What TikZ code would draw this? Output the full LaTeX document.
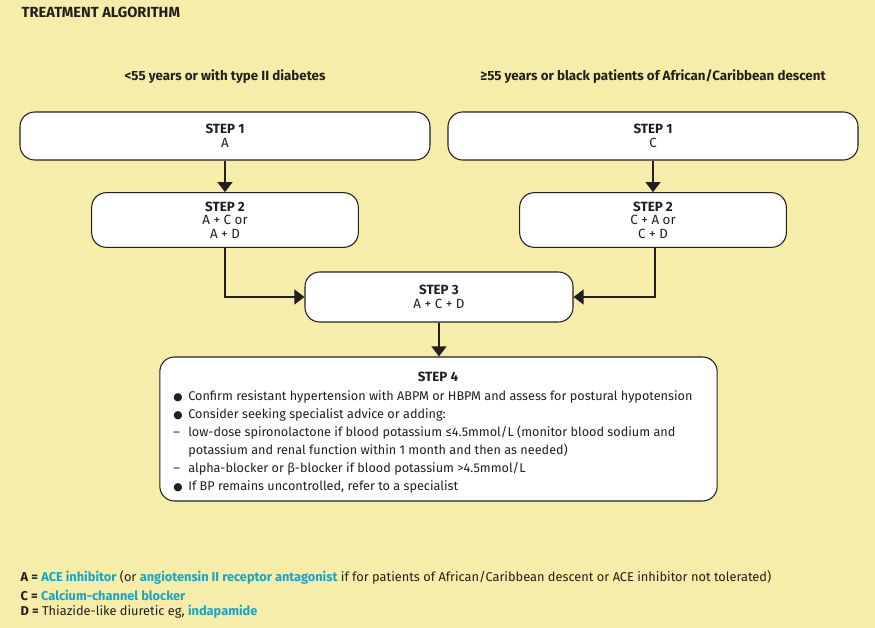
\documentclass[tikz,border=0pt]{standalone}
\usepackage{fontspec}
\setmainfont{Fira Sans}
\newfontfamily\symfont{DejaVu Sans}
\usetikzlibrary{arrows.meta}
\definecolor{bgyellow}{HTML}{F5EDA9}
\definecolor{keyblue}{HTML}{1BA3C6}
\definecolor{inkgrey}{HTML}{231F20}
\newcommand{\mk}[1]{\makebox[11.25pt][l]{#1}}
\newcommand{\bul}{\mk{\symfont\footnotesize ●}}
\newcommand{\drug}[1]{\textcolor{keyblue}{\textbf{#1}}}
\begin{document}
\begin{tikzpicture}[x=0.75pt,y=-0.75pt,
  every node/.style={text=inkgrey},
  stepbox/.style={draw=inkgrey,line width=0.8pt,fill=white,rounded corners=11pt,
    align=center,font=\fontsize{10}{10.2}\selectfont},
  flow/.style={draw=inkgrey,line width=1.5pt,-{Triangle[width=11pt,length=7.5pt]}},
  head/.style={font=\bfseries\fontsize{10}{12}\selectfont},
  keyline/.style={anchor=west,font=\fontsize{9.6}{11}\selectfont}]
      \fill[bgyellow] (0,0) rectangle (875,628);
      \useasboundingbox (0,0) rectangle (875,628);
      
      \node[head,anchor=west,font=\bfseries\fontsize{11}{12}\selectfont] (title) at (17,12) {TREATMENT ALGORITHM};
      \node[head] (younger) at (225,77) {<55 years or with type II diabetes};
      \node[head] (older) at (653,77) {≥55 years or black patients of African/Caribbean descent};
      
      \node[stepbox,minimum width=307.5pt,minimum height=36pt] (s1a) at (225,136) {\textbf{STEP 1}\\A};
      \node[stepbox,minimum width=307.5pt,minimum height=36pt] (s1c) at (653,136) {\textbf{STEP 1}\\C};
      \node[stepbox,minimum width=200pt,minimum height=41pt] (s2a) at (225,220) {\textbf{STEP 2}\\A + C or\\A + D};
      \node[stepbox,minimum width=200pt,minimum height=41pt] (s2c) at (653,220) {\textbf{STEP 2}\\C + A or\\C + D};
      \node[stepbox,minimum width=201pt,minimum height=37.5pt] (s3) at (439,297) {\textbf{STEP 3}\\A + C + D};
      \node[stepbox,minimum width=418pt,minimum height=108pt] (s4) at (438.5,429) {};
      
      \node[head] (s4title) at (438,377) {STEP 4};
      \node[anchor=north west,align=left,inner sep=0pt,font=\fontsize{9.5}{13.5}\selectfont] (s4list) at (173,390)
        {\bul Confirm resistant hypertension with ABPM or HBPM and assess for postural hypotension\\
         \bul Consider seeking specialist advice or adding:\\
         \mk{–}low-dose spironolactone if blood potassium ≤4.5mmol/L (monitor blood sodium and\\
         \mk{}potassium and renal function within 1 month and then as needed)\\
         \mk{–}alpha-blocker or β-blocker if blood potassium >4.5mmol/L\\
         \bul If BP remains uncontrolled, refer to a specialist};
      
      \draw[flow] (s1a.south) -- (s1a.south |- s2a.north);
      \draw[flow] (s1c.south) -- (s1c.south |- s2c.north);
      \draw[flow] (s2a.south) |- (s3.west);
      \draw[flow] ([xshift=1.5pt]s2c.south) |- (s3.east);
      \draw[flow] (s3.south) -- (s3.south |- s4.north);
      
      \node[keyline] (keya) at (16,578) {\textbf{A =} \drug{ACE inhibitor} (or \drug{angiotensin II receptor antagonist} if for patients of African/Caribbean descent or ACE inhibitor not tolerated)};
      \node[keyline] (keyc) at (16,595) {\textbf{C =} \drug{Calcium-channel blocker}};
      \node[keyline] (keyd) at (16,612) {\textbf{D =} Thiazide-like diuretic eg, \drug{indapamide}};
      
\end{tikzpicture}
\end{document}
